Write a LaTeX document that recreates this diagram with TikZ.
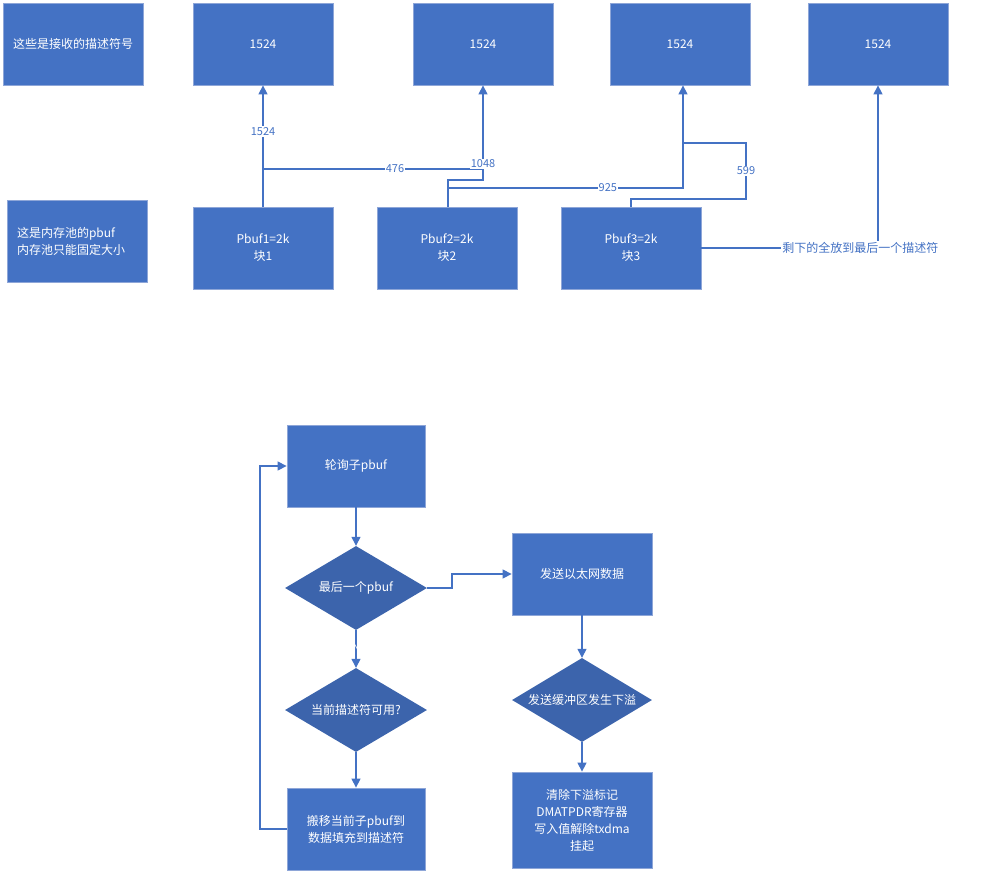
\documentclass[tikz,border=0pt]{standalone}
\usepackage{fontspec}
\setmainfont{Noto Sans CJK SC}
\usetikzlibrary{shapes.geometric,arrows.meta}
\definecolor{boxblue}{HTML}{4472C4}
\definecolor{diablue}{HTML}{3C64AC}
\definecolor{edgeblue}{HTML}{8EA6D8}
\tikzset{
  box/.style={fill=boxblue, draw=edgeblue, line width=0.8pt, text=white, minimum width=140pt, minimum height=82pt, align=center, font=\fontsize{12}{17}\selectfont},
  dia/.style={diamond, fill=diablue, draw=none, inner sep=0pt, minimum width=142pt, minimum height=84pt},
  txt/.style={text=white, align=center, font=\fontsize{12}{17}\selectfont},
  conn/.style={draw=boxblue, line width=1.3pt},
  arr/.style={conn, -{Triangle[length=9pt,width=9pt]}},
  lbl/.style={fill=white, text=boxblue, inner sep=1pt, font=\fontsize{11}{13}\selectfont}
}
\begin{document}
\begin{tikzpicture}[x=1pt,y=-1pt]
  \useasboundingbox (0,0) rectangle (984,874);
  % descriptors
  \node[box, text width=120pt, align=left] (rxinfo) at (73,44) {这些是接收的描述符号};
  \node[box] (d1) at (263,44) {1524};
  \node[box] (d2) at (483,44) {1524};
  \node[box] (d3) at (680,44) {1524};
  \node[box] (d4) at (878,44) {1524};
  % pbufs
  \node[box, text width=120pt, align=left] (pbinfo) at (77,241) {这是内存池的pbuf 内存池只能固定大小};
  \node[box] (p1) at (263,248) {Pbuf1=2k\\块1};
  \node[box] (p2) at (447,248) {Pbuf2=2k\\块2};
  \node[box] (p3) at (631,248) {Pbuf3=2k\\块3};
  \coordinate (j1) at (263,169);
  \coordinate (j2) at (448,188);
  \coordinate (j3) at (683,143);
  % connectors
  \draw[arr] (p1.north) -- node[lbl, pos=0.62] {1524} (d1.south);
  \draw[conn] (j1) -- node[lbl, pos=0.6] {476} (j1 -| d2.south);
  \draw[arr] (p2.north -| j2) -- (448,180) -- (483,180) -- node[lbl, pos=0.17] {1048} (d2.south);
  \draw[arr] (j2) -- node[lbl, pos=0.68] {925} (j2 -| j3) -- (j3 |- d3.south);
  \draw[conn] (p3.north) -- (631,199) -- (746,199) -- node[lbl, pos=0.5] {599} (746,143) -- (j3);
  \draw[arr] (p3.east) -- node[lbl, pos=0.9, font=\fontsize{12}{14}\selectfont] {剩下的全放到最后一个描述符} (p3.east -| d4.south) -- (d4.south);
  % flow chart
  \node[box, minimum width=138pt] (poll) at (356,466) {轮询子pbuf};
  \node[dia] (last) at (356,588) {};
  \node[txt] (lasttxt) at (last) {最后一个pbuf};
  \node[dia] (avail) at (356,710) {};
  \node[txt, text width=110pt] (availtxt) at (avail) {当前描述符可用?};
  \node[box, minimum width=138pt] (move) at (356,829) {搬移当前子pbuf到\\数据填充到描述符};
  \node[box] (send) at (582,574) {发送以太网数据};
  \node[dia, minimum width=140pt] (under) at (582,700) {};
  \node[txt, text width=110pt] (undertxt) at (under) {发送缓冲区发生下溢};
  \node[box, minimum height=96pt] (clear) at (582,820) {清除下溢标记\\DMATPDR寄存器\\写入值解除txdma\\挂起};
  \draw[arr] (poll.south) -- (last.north);
  \draw[arr] (last.east) -- (452,588) -- (452,574) -- (send.west);
  \draw[arr] (last.south) -- node[lbl, pos=0.45, fill=none, text=white, font=\fontsize{10}{12}\selectfont] {N} (avail.north);
  \draw[arr] (avail.south) -- (move.north);
  \draw[arr] (move.west) -- (260,829) -- (260,466) -- (poll.west);
  \draw[arr] (send.south) -- (under.north);
  \draw[arr] (under.south) -- (clear.north);
\end{tikzpicture}
\end{document}
